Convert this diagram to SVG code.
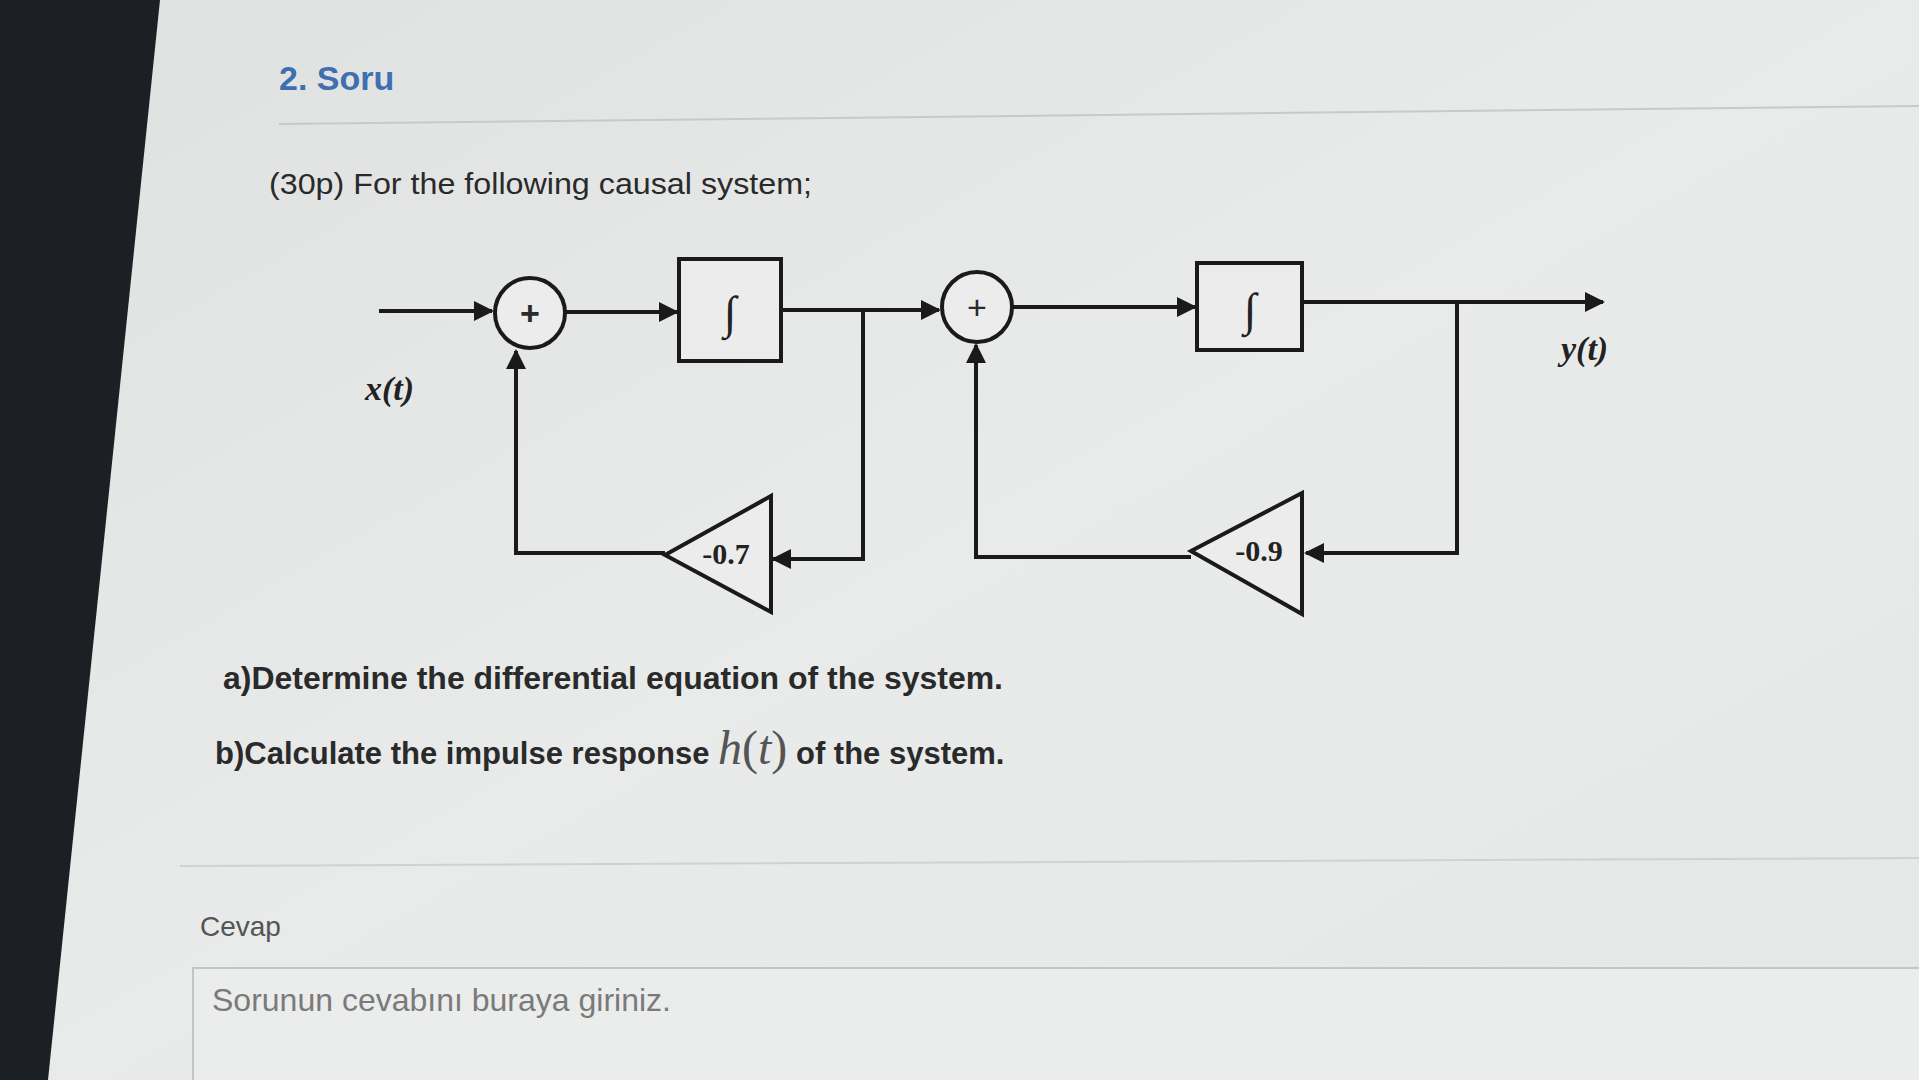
<svg xmlns="http://www.w3.org/2000/svg" width="1919" height="1080" viewBox="0 0 1919 1080">
<defs>
<marker id="ah" viewBox="0 0 10 10" refX="9" refY="5" markerWidth="5" markerHeight="5" orient="auto"><path d="M0,0 L10,5 L0,10 z" fill="#1a1a1a"/></marker>
<linearGradient id="bg" x1="0" y1="0" x2="1" y2="1"><stop offset="0" stop-color="#dfe1e1"/><stop offset="0.5" stop-color="#e9eaea"/><stop offset="1" stop-color="#e6e7e7"/></linearGradient>
</defs>
<style>
.w{stroke:#1a1a1a;stroke-width:4;fill:none}
.b{stroke:#1a1a1a;stroke-width:4;fill:#ececec}
.t{font-family:"Liberation Sans",Arial,sans-serif;fill:#2a2a2a}
.s{font-family:"Liberation Serif","DejaVu Serif",serif;font-weight:bold;fill:#222}
</style>
<rect width="1919" height="1080" fill="url(#bg)"/>
<polygon points="0,0 160,0 48,1080 0,1080" fill="#1c2024"/>
<text class="t" x="279" y="90" font-size="34" font-weight="bold" style="fill:#3f6fb0">2. Soru</text>
<line x1="279" y1="124" x2="1919" y2="106" stroke="#c8caca" stroke-width="2"/>
<text class="t" x="269" y="194" font-size="29" textLength="543" lengthAdjust="spacingAndGlyphs">(30p) For the following causal system;</text>
<g id="connectors">
<line class="w" x1="379" y1="311" x2="492" y2="311" marker-end="url(#ah)"/>
<line class="w" x1="566" y1="312" x2="677" y2="312" marker-end="url(#ah)"/>
<polyline class="w" points="781,310 939,310" marker-end="url(#ah)"/>
<polyline class="w" points="863,310 863,559 773,559" marker-end="url(#ah)"/>
<polyline class="w" points="665,553 516,553 516,351" marker-end="url(#ah)"/>
<line class="w" x1="1013" y1="307" x2="1195" y2="307" marker-end="url(#ah)"/>
<line class="w" x1="1302" y1="302" x2="1603" y2="302" marker-end="url(#ah)"/>
<polyline class="w" points="1457,302 1457,553 1306,553" marker-end="url(#ah)"/>
<polyline class="w" points="1191,557 976,557 976,345" marker-end="url(#ah)"/>
</g>
<g id="sum1"><circle class="b" cx="530" cy="313" r="35"/><text class="t" x="530" y="325" font-size="34" font-weight="bold" text-anchor="middle">+</text></g>
<g id="int1"><rect class="b" x="679" y="259" width="102" height="102"/><text class="s" x="730" y="328" font-size="46" text-anchor="middle" font-weight="normal">∫</text></g>
<g id="sum2"><circle class="b" cx="977" cy="307" r="35"/><text class="t" x="977" y="319" font-size="34" text-anchor="middle">+</text></g>
<g id="int2"><rect class="b" x="1197" y="263" width="105" height="87"/><text class="s" x="1250" y="325" font-size="46" text-anchor="middle" font-weight="normal">∫</text></g>
<g id="gain1"><polygon class="b" points="665,555 771,496 771,612"/><text class="s" x="726" y="564" font-size="30" text-anchor="middle">-0.7</text></g>
<g id="gain2"><polygon class="b" points="1191,551 1302,493 1302,614"/><text class="s" x="1259" y="561" font-size="30" text-anchor="middle">-0.9</text></g>
<text class="s" x="365" y="400" font-size="34" font-style="italic">x(t)</text>
<text class="s" x="1561" y="360" font-size="34" font-style="italic">y(t)</text>
<text class="t" x="223" y="689" font-size="31" font-weight="bold" textLength="780" lengthAdjust="spacingAndGlyphs">a)Determine the differential equation of the system.</text>
<text class="t" x="215" y="764" font-size="31" font-weight="bold">b)Calculate the impulse response <tspan font-family="Liberation Serif,serif" font-weight="normal" font-style="italic" font-size="48" fill="#555">h</tspan><tspan font-family="Liberation Serif,serif" font-weight="normal" font-size="48" fill="#555">(</tspan><tspan font-family="Liberation Serif,serif" font-weight="normal" font-style="italic" font-size="48" fill="#555">t</tspan><tspan font-family="Liberation Serif,serif" font-weight="normal" font-size="48" fill="#555">)</tspan> of the system.</text>
<line x1="180" y1="866" x2="1919" y2="858" stroke="#d0d2d2" stroke-width="2"/>
<text class="t" x="200" y="936" font-size="28" style="fill:#555">Cevap</text>
<rect x="193" y="968" width="1740" height="130" fill="#ebecec" stroke="#c4c6c6" stroke-width="2"/>
<text class="t" x="212" y="1011" font-size="32" style="fill:#7a7a7a">Sorunun cevabını buraya giriniz.</text>
</svg>
